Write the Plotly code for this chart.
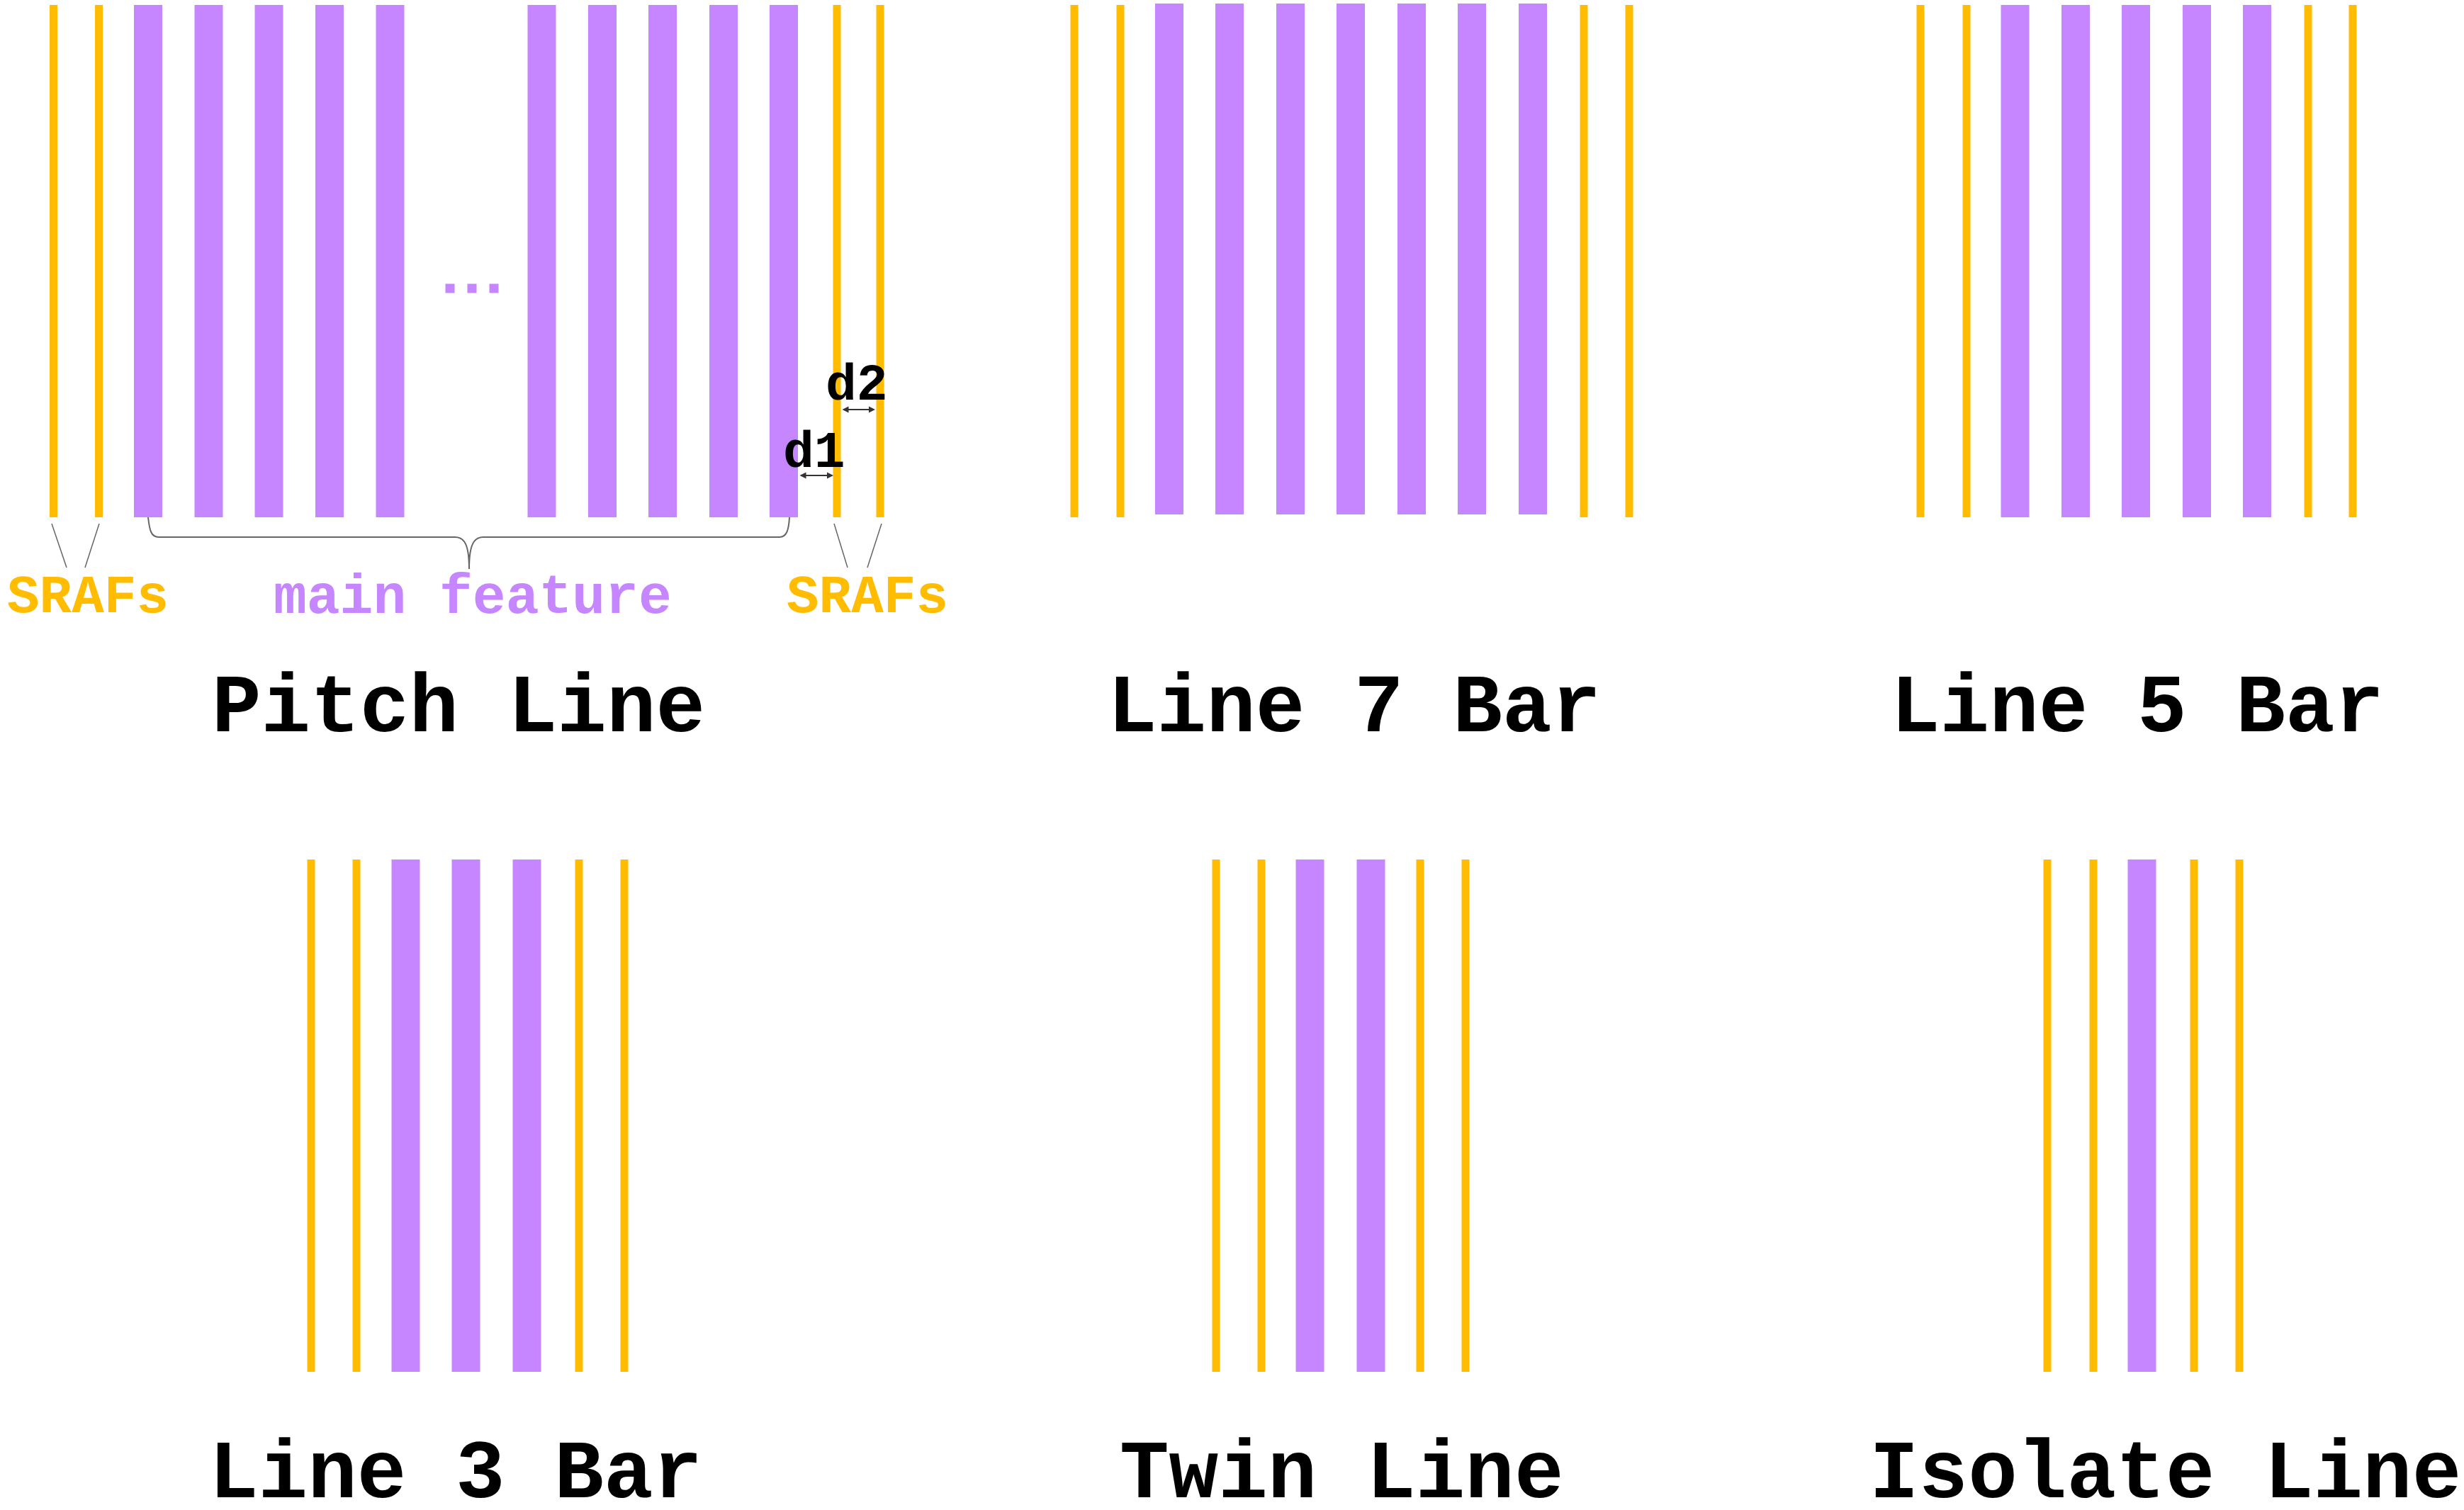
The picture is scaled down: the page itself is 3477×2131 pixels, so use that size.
import plotly.graph_objects as go

# bar centres for each pattern (pixels of the picture)
pitch_main = [209, 294.5, 379.5, 465, 550.5, 764.5, 850, 935, 1021, 1106]
pitch_sraf = [75.5, 139.5, 1181, 1242]
line7_main = [1650, 1735, 1821, 1906, 1992, 2077, 2163]
line7_sraf = [1516, 1581, 2235, 2299]
line5_main = [2843.5, 2929, 3014, 3100, 3185]
line5_sraf = [2710, 2775, 3257, 3320]
line3_main = [572.5, 657.5, 743.5]
line3_sraf = [439, 503, 817, 881]
twin_main = [1848.5, 1934.5]
twin_sraf = [1716, 1780, 2004, 2068]
isolate_main = [3022.5]
isolate_sraf = [2889, 2954, 3096, 3160]

row1_top = 7
row1_bottom = 730
row2_top = 1213
row2_bottom = 1936
line7_top = 5
line7_bottom = 726

titles = ["Pitch Line", "Line 7 Bar", "Line 5 Bar", "Line 3 Bar", "Twin Line", "Isolate Line"]
title_x = [647, 1911, 3016, 643, 1893, 3055]
title_y = [1001, 1001, 1001, 2082, 2082, 2082]

dots_x = [635, 666, 697]
dots_y = [407, 407, 407]

PURPLE = "#C686FF"
YELLOW = "#FFBC00"
MONO = "Liberation Mono"

fig = go.Figure()


def add_bars(xs, top, bottom, color, width):
    fig.add_trace(go.Bar(
        x=xs,
        y=[bottom - top] * len(xs),
        base=[top] * len(xs),
        width=width,
        marker=dict(color=color, line=dict(width=0)),
        showlegend=False,
    ))


add_bars(pitch_main, row1_top, row1_bottom, PURPLE, 40)
add_bars(pitch_sraf, row1_top, row1_bottom, YELLOW, 11)
add_bars(line7_main, line7_top, line7_bottom, PURPLE, 40)
add_bars(line7_sraf, row1_top, row1_bottom, YELLOW, 11)
add_bars(line5_main, row1_top, row1_bottom, PURPLE, 40)
add_bars(line5_sraf, row1_top, row1_bottom, YELLOW, 11)
add_bars(line3_main, row2_top, row2_bottom, PURPLE, 40)
add_bars(line3_sraf, row2_top, row2_bottom, YELLOW, 11)
add_bars(twin_main, row2_top, row2_bottom, PURPLE, 40)
add_bars(twin_sraf, row2_top, row2_bottom, YELLOW, 11)
add_bars(isolate_main, row2_top, row2_bottom, PURPLE, 40)
add_bars(isolate_sraf, row2_top, row2_bottom, YELLOW, 11)

# the three dots between the pitch bars
fig.add_trace(go.Scatter(
    x=dots_x, y=dots_y, mode="markers",
    marker=dict(symbol="square", size=13, color=PURPLE),
    showlegend=False,
))

# leaders from the SRAFs to their labels
for x0, x1 in [(73, 94), (140, 120), (1177, 1196), (1244, 1224)]:
    fig.add_shape(type="line", x0=x0, x1=x1, y0=739, y1=801, line=dict(color="#666666", width=1.5))

# brace under the main feature
fig.add_shape(
    type="path",
    path="M 209 730 C 211 748, 213 758, 224 758 L 642 758 C 655 758, 662 768, 662 803 "
         "C 662 768, 669 758, 682 758 L 1100 758 C 1110 758, 1113 748, 1114 730",
    line=dict(color="#666666", width=2),
)

# d1 / d2 double arrows
for x0, x1, y in [(1127, 1176, 671), (1187, 1235, 578)]:
    fig.add_annotation(
        x=x1, y=y, ax=x0, ay=y, xref="x", yref="y", axref="x", ayref="y", text="",
        showarrow=True, arrowhead=2, arrowside="end+start", arrowsize=0.9, arrowwidth=2, arrowcolor="#333333",
    )


def add_label(text, x, y, size, color):
    fig.add_annotation(
        x=x, y=y, text=text, showarrow=False, xanchor="center", yanchor="middle",
        font=dict(family=MONO, size=size, color=color, weight="bold"),
    )


for t, x, y in zip(titles, title_x, title_y):
    add_label(t, x, y, 116, "black")

add_label("SRAFs", 124, 844, 76, YELLOW)
add_label("SRAFs", 1224, 844, 76, YELLOW)
add_label("main feature", 667, 844, 78, PURPLE)
add_label("d1", 1149, 639, 73, "black")
add_label("d2", 1209, 544, 73, "black")

fig.update_layout(
    width=3477, height=2131,
    margin=dict(l=0, r=0, t=0, b=0),
    barmode="overlay",
    plot_bgcolor="white", paper_bgcolor="white",
    xaxis=dict(range=[0, 3477], visible=False),
    yaxis=dict(range=[2131, 0], visible=False),
)

fig.write_html("out.html", config={"displayModeBar": False}, post_script="document.body.style.margin='0';")
